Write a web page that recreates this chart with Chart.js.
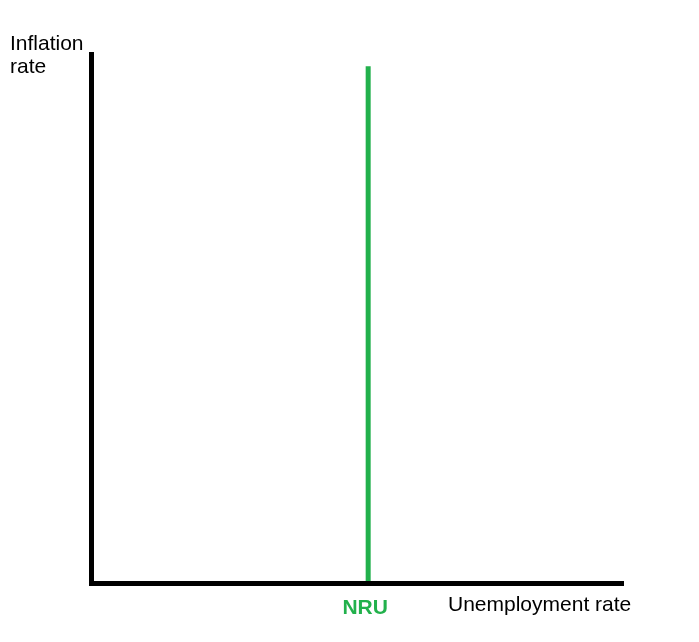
<!DOCTYPE html>
<html>
<head>
<meta charset="utf-8">
<script src="https://cdn.jsdelivr.net/npm/chart.js@4"></script>
<style>
  html, body { margin: 0; padding: 0; background: #fff; }
  canvas { display: block; }
</style>
</head>
<body>
<canvas id="phillips" width="699" height="642"></canvas>
<script>
// data: long run Phillips curve, vertical at the natural rate
const nruX = [5.21, 5.21];
const inflationY = [0, 9.77];
const xTitle = "Unemployment rate";
const yTitle = ["Inflation", "rate"];
const nruLabel = "NRU";

const green = "#22b14c";

// axis titles + NRU label drawn on the canvas
const labelsPlugin = {
  id: "labels",
  afterDraw(chart) {
    const ctx = chart.ctx;
    const xs = chart.scales.x;
    ctx.save();
    ctx.textBaseline = "alphabetic";
    ctx.fillStyle = "#000";
    ctx.font = "21px 'Liberation Sans', Arial, sans-serif";
    ctx.textAlign = "left";
    ctx.fillText(yTitle[0], 10, 50);
    ctx.fillText(yTitle[1], 10, 73);
    ctx.fillText(xTitle, 448, 611);

    ctx.fillStyle = green;
    ctx.font = "bold 21px 'Liberation Sans', Arial, sans-serif";
    ctx.textAlign = "center";
    ctx.fillText(nruLabel, xs.getPixelForValue(nruX[0]) - 3, 614);
    ctx.restore();
  },
};

new Chart(document.getElementById("phillips"), {
  type: "line",
  data: {
    datasets: [
      {
        label: "LRPC",
        data: nruX.map((x, i) => ({ x: x, y: inflationY[i] })),
        borderColor: green,
        borderWidth: 5,
        borderCapStyle: "butt",
        pointRadius: 0,
        fill: false,
      },
    ],
  },
  options: {
    responsive: false,
    animation: false,
    devicePixelRatio: 1,
    layout: { padding: { left: 91, right: 76, top: 54, bottom: 0 } },
    plugins: { legend: { display: false }, tooltip: { enabled: false } },
    scales: {
      x: {
        type: "linear",
        min: 0,
        max: 10,
        grid: { display: false, drawTicks: false },
        ticks: { display: false },
        border: { display: true, color: "#000", width: 5, z: 1 },
        afterFit: (s) => { s.height = 59; },
      },
      y: {
        type: "linear",
        min: 0,
        max: 10,
        grid: { display: false, drawTicks: false },
        ticks: { display: false },
        border: { display: true, color: "#000", width: 5, z: 1 },
        afterFit: (s) => { s.width = 0; },
      },
    },
  },
  plugins: [labelsPlugin],
});
</script>
</body>
</html>
